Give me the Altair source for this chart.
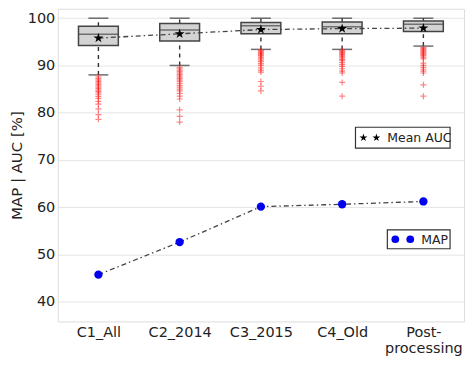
import altair as alt
import pandas as pd

cats = ["C1_All", "C2_2014", "C3_2015", "C4_Old", "Post-processing"]
map_vals = [45.7, 52.6, 60.1, 60.6, 61.2]
mean_auc = [95.8, 96.7, 97.6, 97.8, 97.9]
q1 = [94.2, 95.2, 96.7, 96.7, 97.2]
median = [96.6, 97.5, 98.4, 98.2, 98.7]
q3 = [98.3, 98.9, 99.1, 99.2, 99.4]
whisk_lo = [88.0, 90.0, 93.4, 93.4, 94.1]
whisk_hi = [100.0, 100.0, 100.0, 100.0, 100.0]
outliers = {
    "C1_All": [87.6, 87.2, 86.9, 86.6, 86.3, 86.0, 85.7, 85.4, 85.1, 84.8, 84.5, 84.2,
               83.8, 83.4, 83.0, 82.4, 81.8, 80.8, 79.6, 78.6],
    "C2_2014": [89.6, 89.3, 89.0, 88.7, 88.4, 88.1, 87.8, 87.5, 87.2, 86.9, 86.6, 86.2,
                85.8, 85.4, 85.0, 84.6, 84.1, 83.5, 82.9, 80.6, 79.2, 78.0],
    "C3_2015": [93.2, 93.0, 92.8, 92.6, 92.4, 92.2, 92.0, 91.7, 91.4, 91.1, 90.8, 90.4,
                90.0, 89.5, 89.0, 88.6, 86.6, 85.6, 84.6],
    "C4_Old": [93.2, 93.0, 92.8, 92.6, 92.4, 92.2, 91.9, 91.6, 91.3, 91.0, 90.6, 90.2,
               89.8, 89.3, 88.8, 88.4, 86.4, 83.5],
    "Post-processing": [93.8, 93.6, 93.4, 93.2, 93.0, 92.8, 92.6, 92.4, 92.2, 92.0, 91.7,
                        91.4, 90.5, 90.0, 89.6, 89.2, 88.8, 88.4, 85.9, 83.5],
}
y_ticks = [40, 50, 60, 70, 80, 90, 100]

stats = pd.DataFrame({"cat": cats, "q1": q1, "median": median, "q3": q3,
                      "lo": whisk_lo, "hi": whisk_hi, "mean": mean_auc, "map": map_vals})
out_df = pd.DataFrame([{"cat": c, "v": v} for c in cats for v in outliers[c]])

FONT = "DejaVu Sans"
STAR = ("M0,-1L0.223,-0.307L0.951,-0.309L0.361,0.117L0.588,0.809L0,0.38"
        "L-0.588,0.809L-0.361,0.117L-0.951,-0.309L-0.223,-0.307Z")
CROSS = "M-1,0L1,0M0,-1L0,1"

label_expr = "datum.value == 'Post-processing' ? ['Post-', 'processing'] : datum.value"
x = alt.X("cat:N", sort=cats, scale=alt.Scale(type="point", padding=0.5),
          axis=alt.Axis(title=None, labelAngle=0, labelExpr=label_expr, labelFontSize=14.5,
                        labelFont=FONT, labelColor="#222", labelPadding=4, tickSize=0,
                        domain=False, grid=False, labelLineHeight=16))
yscale = alt.Scale(domain=[35.8, 102.0], nice=False, zero=False)
yaxis = alt.Axis(values=y_ticks, title="MAP | AUC  [%]", titleFont=FONT, titleFontSize=15,
                 titleFontWeight="normal", titleColor="#222", titlePadding=3,
                 labelFont=FONT, labelFontSize=14.5, labelColor="#222", labelPadding=3,
                 tickSize=0, domain=False, grid=True, gridColor="#e4e4e4", gridWidth=1)

base = alt.Chart(stats)

whisk_low = base.mark_rule(color="#333", strokeDash=[4, 4], strokeWidth=1.4).encode(
    x=x, y=alt.Y("lo:Q", scale=yscale, axis=yaxis), y2="q1:Q")
whisk_high = base.mark_rule(color="#333", strokeDash=[4, 4], strokeWidth=1.4).encode(
    x=x, y=alt.Y("q3:Q", scale=yscale), y2="hi:Q")
box = base.mark_bar(size=40, color="#d3d3d3", stroke="#444", strokeWidth=1.5).encode(
    x=x, y=alt.Y("q1:Q", scale=yscale), y2="q3:Q")
med = base.mark_tick(size=40, thickness=1.5, color="#444").encode(
    x=x, y=alt.Y("median:Q", scale=yscale))
cap_lo = base.mark_tick(size=20, thickness=1.5, color="#333").encode(
    x=x, y=alt.Y("lo:Q", scale=yscale))
cap_hi = base.mark_tick(size=20, thickness=1.5, color="#333").encode(
    x=x, y=alt.Y("hi:Q", scale=yscale))
outl = alt.Chart(out_df).mark_point(shape=CROSS, size=36, filled=False, stroke="#ff2020",
                                    strokeWidth=1.2, opacity=0.55).encode(
    x=x, y=alt.Y("v:Q", scale=yscale))

mean_line = base.mark_line(color="#444", strokeDash=[5, 3, 1.5, 3], strokeWidth=1.3).encode(
    x=x, y=alt.Y("mean:Q", scale=yscale))
mean_pts = base.mark_point(shape=STAR, size=110, filled=True, color="black", opacity=1).encode(
    x=x, y=alt.Y("mean:Q", scale=yscale))
map_line = base.mark_line(color="#444", strokeDash=[5, 3, 1.5, 3], strokeWidth=1.3).encode(
    x=x, y=alt.Y("map:Q", scale=yscale))
map_pts = base.mark_point(shape="circle", size=70, filled=True, color="#0000ee", opacity=1).encode(
    x=x, y=alt.Y("map:Q", scale=yscale))

# legend boxes
leg1 = pd.DataFrame({"label": ["Mean AUC"]})
leg2 = pd.DataFrame({"label": ["MAP"]})
lb1 = alt.Chart(leg1).mark_rect(fill="white", stroke="#333", strokeWidth=1.2).encode(
    x=alt.value(299), x2=alt.value(394), y=alt.value(119), y2=alt.value(140))
ls1a = alt.Chart(leg1).mark_point(shape=STAR, size=70, filled=True, color="black", opacity=1).encode(
    x=alt.value(307), y=alt.value(129.5))
ls1b = alt.Chart(leg1).mark_point(shape=STAR, size=70, filled=True, color="black", opacity=1).encode(
    x=alt.value(320), y=alt.value(129.5))
lt1 = alt.Chart(leg1).mark_text(font=FONT, fontSize=12.5, align="left", baseline="middle",
                                color="#222").encode(
    x=alt.value(331), y=alt.value(130), text="label:N")
lb2 = alt.Chart(leg2).mark_rect(fill="white", stroke="#333", strokeWidth=1.2).encode(
    x=alt.value(331), x2=alt.value(394), y=alt.value(222), y2=alt.value(241))
ls2a = alt.Chart(leg2).mark_point(shape="circle", size=60, filled=True, color="#0000ee", opacity=1).encode(
    x=alt.value(339), y=alt.value(231.5))
ls2b = alt.Chart(leg2).mark_point(shape="circle", size=60, filled=True, color="#0000ee", opacity=1).encode(
    x=alt.value(354), y=alt.value(231.5))
lt2 = alt.Chart(leg2).mark_text(font=FONT, fontSize=12.5, align="left", baseline="middle",
                                color="#222").encode(
    x=alt.value(365), y=alt.value(232), text="label:N")

chart = alt.layer(
    whisk_low, whisk_high, box, med, cap_lo, cap_hi, outl,
    mean_line, mean_pts, map_line, map_pts,
    lb1, ls1a, ls1b, lt1, lb2, ls2a, ls2b, lt2,
).properties(
    width=408, height=314,
    autosize=alt.AutoSizeParams(type="none"),
    padding={"left": 50, "top": 0, "right": 2, "bottom": 42},
).configure_view(
    stroke="#555", strokeWidth=1.5
).configure(background="white")

chart.save("out.html", embed_options={"renderer": "svg", "actions": False})
